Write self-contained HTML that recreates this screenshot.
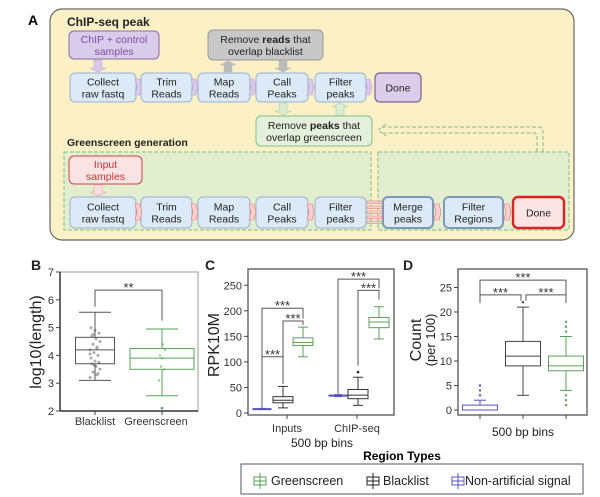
<!DOCTYPE html>
<html><head><meta charset="utf-8"><style>
body{margin:0;background:#fff;width:600px;height:497px;overflow:hidden;font-family:"Liberation Sans",Arial,sans-serif}
svg{position:absolute;left:0;top:0}
text{font-family:"Liberation Sans",Arial,sans-serif}
</style></head><body>
<svg id="s" width="600" height="497" viewBox="0 0 600 497">
<g>
<text x="28" y="25" font-size="14" font-weight="bold">A</text>
<rect x="50" y="9" width="524" height="231" rx="12" fill="#fcf0c6" stroke="#666" stroke-width="1.2"/>
<text x="67" y="26" font-size="12" font-weight="bold" fill="#222">ChIP-seq peak</text>
<text x="67" y="146" font-size="10.5" font-weight="bold" fill="#222">Greenscreen generation</text>
<rect x="64" y="152" width="307" height="78" fill="#e3edcf" stroke="#7fbf7f" stroke-dasharray="4,2"/>
<rect x="378" y="152" width="191" height="78" fill="#e3edcf" stroke="#7fbf7f" stroke-dasharray="4,2"/>
<path d="M537 152 V136 Q537 133 534 133 H382 M543 152 V132 Q543 127 538 127 H382 M386 124 L378 130 L386 136" fill="none" stroke="#7fbf7f" stroke-width="1" stroke-dasharray="4,2"/>
<g id="flow"></g>
</g>
<g id="pb"></g>
<g id="pc"></g>
<g id="pd"></g>
<g>
<text x="402" y="460" font-size="12" font-weight="bold" text-anchor="middle">Region Types</text>
<rect x="241" y="464" width="342" height="30" fill="#fff" stroke="#556"/>
<g id="lg"></g>
</g>
</svg>
<script>
var NS='http://www.w3.org/2000/svg';
function mk(p,t,a){var e=document.createElementNS(NS,t);for(var k in a)e.setAttribute(k,a[k]);p.appendChild(e);return e;}
var flow=document.getElementById('flow');
var boxes=[
[69,31,90,28,['ChIP + control','samples'],'#d9cbea','#8a6aa8','#7a50a8','chip-control-samples-box',1],
[208,30,115,30,['Remove <tspan font-weight="bold">reads</tspan> that','overlap blacklist'],'#c8c8c8','#999','#222','remove-reads-box',1],
[70,73,66,29,['Collect','raw fastq'],'#dce9f6','#9ab3cc','#222','collect-box-1',1],
[141,73,51,29,['Trim','Reads'],'#dce9f6','#9ab3cc','#222','trim-box-1',1],
[198,73,52,29,['Map','Reads'],'#dce9f6','#9ab3cc','#222','map-box-1',1],
[256,73,52,29,['Call','Peaks'],'#dce9f6','#9ab3cc','#222','call-box-1',1],
[315,73,51,29,['Filter','peaks'],'#dce9f6','#9ab3cc','#222','filter-box-1',1],
[375,73,46,29,['Done'],'#dccdea','#7a6090','#222','done-box-1',1.2],
[256,116,116,30,['Remove <tspan font-weight="bold">peaks</tspan> that','overlap greenscreen'],'#e4f0dc','#7fbf7f','#222','remove-peaks-box',1],
[69,156,73,28,['Input','samples'],'#fbe3e3','#cc4444','#cc3333','input-samples-box',1],
[70,197,66,31,['Collect','raw fastq'],'#dce9f6','#9ab3cc','#222','collect-box-2',1],
[141,197,51,31,['Trim','Reads'],'#dce9f6','#9ab3cc','#222','trim-box-2',1],
[198,197,52,31,['Map','Reads'],'#dce9f6','#9ab3cc','#222','map-box-2',1],
[256,197,52,31,['Call','Peaks'],'#dce9f6','#9ab3cc','#222','call-box-2',1],
[315,197,51,31,['Filter','peaks'],'#dce9f6','#9ab3cc','#222','filter-box-2',1],
[383,197,50,31,['Merge','peaks'],'#dce9f6','#7f9ab5','#222','merge-box',2],
[444,197,59,31,['Filter','Regions'],'#dce9f6','#7f9ab5','#222','filter-regions-box',2],
[513,197,51,31,['Done'],'#fce4e4','#dd2222','#222','done-box-2',2.4]];
boxes.forEach(function(b){
 var r=mk(flow,'rect',{x:b[0],y:b[1],width:b[2],height:b[3],rx:5,fill:b[5],stroke:b[6],'stroke-width':b[9]});
 
 
 var cx=b[0]+b[2]/2,n=b[4].length,cy=b[1]+b[3]/2;
 b[4].forEach(function(l,i){
  var t=mk(flow,'text',{x:cx,y:cy+(i-(n-1)/2)*12+4,'font-size':10.5,'text-anchor':'middle',fill:b[7]});
  t.innerHTML=l;
  
  
 });
});
function chev(x,y,h,fill,stroke){var p=mk(flow,'polygon',{points:(x)+','+(y-h/2)+' '+(x+5)+','+(y-h/2)+' '+(x+7)+','+y+' '+(x+5)+','+(y+h/2)+' '+x+','+(y+h/2)+' '+(x+2)+','+y,fill:fill,stroke:stroke,'stroke-width':0.6});
 
 }
[136,192,250,308,366].forEach(function(x,i){chev(x-1,87,16,'#d8c8ea','#b8a0d0');});
[136,192,250,308].forEach(function(x){chev(x-1,212,16,'#fbd0d0','#dd7777');});
chev(504,212,16,'#fbd0d0','#dd7777');chev(434,212,16,'#fbd0d0','#dd7777');
for(var i=0;i<5;i++){var l=mk(flow,'rect',{x:367,y:201+i*5,width:15,height:2.5,fill:'#fbd0d0',stroke:'#dd7777','stroke-width':0.5});}
function varr(x,y1,y2,fill,stroke){var d=y2>y1?1:-1;var p=mk(flow,'polygon',{points:(x-4)+','+y1+' '+(x+4)+','+y1+' '+(x+4)+','+(y2-d*4)+' '+(x+8)+','+(y2-d*4)+' '+x+','+y2+' '+(x-8)+','+(y2-d*4)+' '+(x-4)+','+(y2-d*4),fill:fill,stroke:stroke,'stroke-width':0.6});
 
 }
varr(98,60,72,'#d8c8ea','#c0b0d8');varr(228,72,61,'#bbb','#bbb');varr(283,61,72,'#bbb','#bbb');
varr(283,103,115,'#dcecd4','#aad0aa');varr(340,115,103,'#dcecd4','#aad0aa');varr(98,185,196,'#fbe0e0','#e8a0a0');

// ---------- Panel B ----------
var bCats=['Blacklist','Greenscreen'];
var bStats=[[3.1,3.7,4.2,4.65,5.55],[2.55,3.5,3.9,4.25,4.95]];
var bOutliers=[[],[2.1]];
var bTicks=[2,3,4,5,6,7];
var bPoints=[3.2,3.3,3.4,3.5,3.6,3.7,3.75,3.8,3.9,4.0,4.1,4.2,4.3,4.4,4.5,4.6,4.7,4.8,4.9,5.0,3.35,3.65,4.05,4.25,4.75];
var gPoints=[3.1,3.5,3.9,4.0,4.2,4.4,3.6];
// ---------- Panel C ----------
var cGroups=['Inputs','ChIP-seq'];
var cTicks=[0,50,100,150,200,250];
var cNonArt=[[7,7.5,8,8.5,9],[32,33,34,35,36]];
var cBlack=[[10,20,25,32,52],[15,28,35,46,70]];
var cGreen=[[110,132,138,147,168],[145,167,178,187,208]];
var cBlackOut=[[],[80]];
// ---------- Panel D ----------
var dCats=['Non-artificial','Blacklist','Greenscreen'];
var dTicks=[0,5,10,15,20,25];
var dStats=[[0,0,0,1,2],[3,9,11,14,21],[4,8,9,11,15]];
var dOutliers=[[3,4,5],[22],[16,17,18,1,2,3]];

function box(g,cx,w,s,sc,col,nm,cap){
 var e;
 e=mk(g,'line',{x1:cx,x2:cx,y1:sc(s[0]),y2:sc(s[1]),stroke:col});
 e=mk(g,'line',{x1:cx,x2:cx,y1:sc(s[3]),y2:sc(s[4]),stroke:col});
 var cw=cap||w*0.5;
 e=mk(g,'line',{x1:cx-cw/2,x2:cx+cw/2,y1:sc(s[0]),y2:sc(s[0]),stroke:col});
 e=mk(g,'line',{x1:cx-cw/2,x2:cx+cw/2,y1:sc(s[4]),y2:sc(s[4]),stroke:col});
 e=mk(g,'rect',{x:cx-w/2,y:sc(s[3]),width:w,height:Math.max(1,sc(s[1])-sc(s[3])),fill:'#fff','fill-opacity':0,stroke:col});
 e=mk(g,'line',{x1:cx-w/2,x2:cx+w/2,y1:sc(s[2]),y2:sc(s[2]),stroke:col});
}
function txt(g,x,y,s,fs,anc,nm,extra){var t=mk(g,'text',{x:x,y:y,'font-size':fs,'text-anchor':anc||'middle',fill:'#222'});if(extra)for(var k in extra)t.setAttribute(k,extra[k]);t.textContent=s;return t;}
function ln(g,x1,y1,x2,y2,col,nm,w){var e=mk(g,'line',{x1:x1,y1:y1,x2:x2,y2:y2,stroke:col||'#444','stroke-width':w||1});return e;}
function bracket(g,x1,x2,yb,y1,y2,lab,nm){var p=mk(g,'path',{d:'M'+x1+' '+y1+' V'+yb+' H'+x2+' V'+y2,fill:'none',stroke:'#555'});txt(g,(x1+x2)/2,yb+2,lab,13,'middle',nm+'-label',{fill:'#333'});}
function yaxis(g,x,ticks,sc,nm){ticks.forEach(function(t){ln(g,x-4,sc(t),x,sc(t),'#444',nm+'-tick');txt(g,x-6,sc(t)+4,String(t),11,'end',nm+'-tick-label',{fill:'#333'});});}

// B
(function(){
 var g=document.getElementById('pb');
 var sc=function(v){return 411-(v-2)*27.8;};
 var xs=[95,162],ws=[39,64];
 txt(g,36,270,'B',14,'middle','panel-b-label',{'font-weight':'bold'});
 var f=mk(g,'rect',{x:60,y:sc(7),width:138,height:sc(2)-sc(7),fill:'none',stroke:'#999'});
 ln(g,60,sc(7),60,sc(2),'#333','y-axis-b',1.5);ln(g,60,sc(2),198,sc(2),'#333','x-axis-b',1.5);
 yaxis(g,60,bTicks,sc,'y-axis-b');
 bPoints.forEach(function(v,i){var c=mk(g,'circle',{cx:xs[0]+((i*7)%11-5),cy:sc(v),r:1.5,fill:'#aaa'});});
 gPoints.forEach(function(v,i){var c=mk(g,'circle',{cx:xs[1]+((i*5)%7-3),cy:sc(v),r:1.2,fill:'#8c8'});});
 var cols=['#555','#5aa05a'];
 bStats.forEach(function(s,i){box(g,xs[i],ws[i],s,sc,cols[i],'b-'+bCats[i].toLowerCase(),32);
  bOutliers[i].forEach(function(o){var c=mk(g,'circle',{cx:xs[i],cy:sc(o),r:1.3,fill:cols[i]});});
  ln(g,xs[i],sc(2),xs[i],sc(2)+4,'#444','x-tick-b');
  txt(g,xs[i]-8+i*-6+8,425,bCats[i],11,'middle','x-tick-label-b',{fill:'#333'});});
 bracket(g,xs[0],xs[1],sc(6.35),sc(5.75),sc(5.25),'**','significance-bracket-b');
 txt(g,0,0,'log10(length)',16,'middle','y-axis-title-b',{transform:'translate(41,342) rotate(-90)'});
})();
// C
(function(){
 var g=document.getElementById('pc');
 var sc=function(v){return 413-v*0.511;};
 txt(g,210,270,'C',14,'middle','panel-c-label',{'font-weight':'bold'});
 var f=mk(g,'rect',{x:248,y:269,width:146,height:146,fill:'none',stroke:'#555','stroke-width':1.3});
 yaxis(g,248,cTicks,sc,'y-axis-c');
 var gx=[287,357],off=[-25,-4,16];
 cGroups.forEach(function(n,i){
  var c0=gx[i]+off[0]+(i?6:0),c1=gx[i]+off[1]+(i?5:0),c2=gx[i]+off[2]+(i?6:0);
  box(g,c0,18,cNonArt[i],sc,'#5555bb','c-nonartificial-'+i,8);
  box(g,c1,20,cBlack[i],sc,'#333','c-blacklist-'+i,10);
  box(g,c2,20,cGreen[i],sc,'#5aa05a','c-greenscreen-'+i,10);
  cBlackOut[i].forEach(function(o){var d=mk(g,'circle',{cx:c1,cy:sc(o),r:1.3,fill:'#222'});});
  ln(g,gx[i],415,gx[i],419,'#444','x-tick-c');
  txt(g,gx[i],432,n,11,'middle','x-tick-label-c',{fill:'#333'});
  if(i===0){
   bracket(g,c0,c2,sc(205),sc(10),sc(185),'***','bracket-inputs-outer');
   bracket(g,c1,c2,sc(180),sc(85),sc(172),'***','bracket-inputs-mid');
   bracket(g,c0,c1,sc(110),sc(12),sc(57),'***','bracket-inputs-inner');
  } else {
   bracket(g,c0,c2,sc(262),sc(38),sc(244),'***','bracket-chip-outer');
   bracket(g,c1,c2,sc(240),sc(93),sc(222),'***','bracket-chip-inner');
  }
 });
 txt(g,322,447,'500 bp bins',12,'middle','x-axis-title-c');
 txt(g,0,0,'RPK10M',16,'middle','y-axis-title-c',{transform:'translate(219,345) rotate(-90)'});
})();
// D
(function(){
 var g=document.getElementById('pd');
 var sc=function(v){return 410-v*4.9;};
 txt(g,408,270,'D',14,'middle','panel-d-label',{'font-weight':'bold'});
 var f=mk(g,'rect',{x:458,y:269,width:129,height:146,fill:'none',stroke:'#555','stroke-width':1.3});
 yaxis(g,458,dTicks,sc,'y-axis-d');
 var xs=[480,523,566],cols=['#5555bb','#444','#5aa05a'];
 dStats.forEach(function(s,i){box(g,xs[i],35,s,sc,cols[i],'d-'+dCats[i].toLowerCase(),12);
  dOutliers[i].forEach(function(o){var c=mk(g,'circle',{cx:xs[i],cy:sc(o),r:1.2,fill:cols[i]});});
  ln(g,xs[i],415,xs[i],419,'#444','x-tick-d');});
 bracket(g,xs[0],xs[2],sc(26.5),sc(23.5),sc(23.5),'***','bracket-d-outer');
 bracket(g,xs[0],xs[1]-2,sc(23.5),sc(21.8),sc(22.3),'***','bracket-d-left');
 bracket(g,xs[1]+3,xs[2],sc(23.5),sc(22.3),sc(21.8),'***','bracket-d-right');
 txt(g,523,436,'500 bp bins',12,'middle','x-axis-title-d');
 txt(g,0,0,'Count',16,'middle','y-axis-title-d',{transform:'translate(421,340) rotate(-90)'});
 txt(g,0,0,'(per 100)',13,'middle','y-axis-subtitle-d',{transform:'translate(435,340) rotate(-90)'});
})();
// legend
(function(){
 var g=document.getElementById('lg');
 var items=[['Greenscreen','#5aa05a',260,271],['Blacklist','#222',373,383],['Non-artificial signal','#5555bb',458,465]];
 items.forEach(function(it,i){
  ln(g,it[2],473,it[2],489,it[1],'legend-icon-whisker');
  var r=mk(g,'rect',{x:it[2]-6,y:477,width:12,height:8,fill:'none',stroke:it[1]});
  ln(g,it[2]-6,481,it[2]+6,481,it[1],'legend-icon-median');
  txt(g,it[3],485,it[0],12.5,'start','legend-entry-'+it[0].toLowerCase().replace(/ /g,'-'));
 });
})();
</script>
</body></html>
